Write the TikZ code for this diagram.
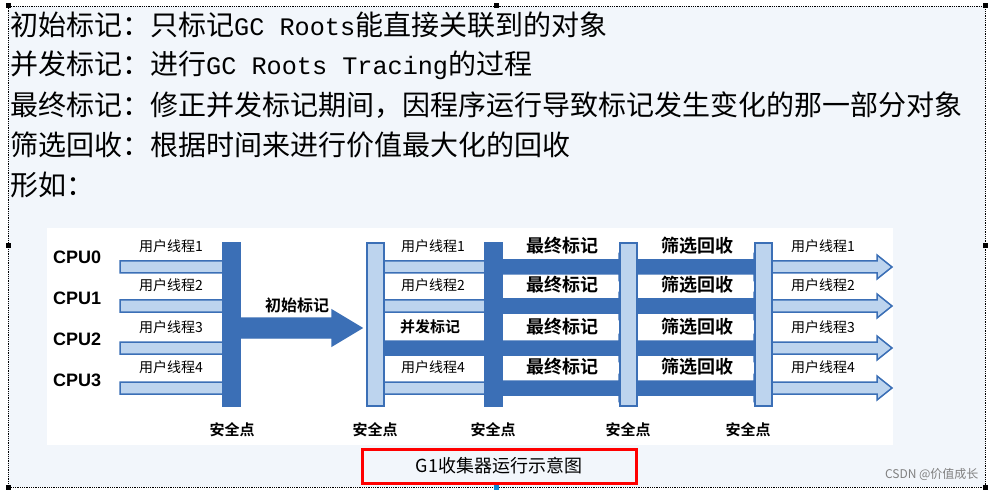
\documentclass[tikz,border=0pt]{standalone}
\usepackage{fontspec}
\setmainfont{Noto Sans CJK SC}
\newfontfamily\cjkb{Noto Sans CJK SC Bold}
\newfontfamily\mymono[Scale=0.9]{Liberation Mono}
\newfontfamily\lsans{Liberation Sans}
\definecolor{dk}{HTML}{3B6FB6}
\definecolor{lt}{HTML}{BDD4EE}
\definecolor{bg}{HTML}{F2F6FB}
\newcommand\harr[5]{% x1 x2 y bodyhalf fill
  \path[draw=dk,fill=#5,line width=1.5pt] (#1,#3-#4) -- (#2-15,#3-#4) -- (#2-15,#3-#4-6) -- (#2,#3) -- (#2-15,#3+#4+6) -- (#2-15,#3+#4) -- (#1,#3+#4) -- cycle;}
\newcommand\vbar[2]{\path[draw=dk,fill=#2,line width=1.5pt] (#1,243) rectangle (#1+17,406);}
\tikzset{top/.style={anchor=west,font=\fontsize{28}{30}\selectfont,inner sep=0},
 ulab/.style={font=\fontsize{14}{16}\selectfont,inner sep=0},
 blab/.style={font=\cjkb\fontsize{18}{20}\selectfont,inner sep=0},
 slab/.style={font=\cjkb\fontsize{15}{17}\selectfont,inner sep=0},
 cpu/.style={font=\lsans\bfseries\fontsize{18}{20}\selectfont,inner sep=0,anchor=west}}
\begin{document}
\begin{tikzpicture}[x=1pt,y=-1pt]
\useasboundingbox (0,0) rectangle (993,494);
\fill[white] (0,0) rectangle (993,494);
\fill[bg] (8,6) rectangle (985,487);
\draw[densely dotted,line width=0.8pt] (8,6) rectangle (985,487);
\foreach \p in {(8,6),(496,6),(985,6),(8,246),(985,246),(8,487),(985,487)} \fill \p +(-2.5,-2.5) rectangle +(2.5,2.5);
\fill[cyan!70!blue] (496,487) +(-2.5,-2.5) rectangle +(2.5,2.5);
\node[top] (l1) at (10,25) {初始标记：只标记{\mymono GC Roots}能直接关联到的对象};
\node[top] (l2) at (10,65) {并发标记：进行{\mymono GC Roots Tracing}的过程};
\node[top] (l3) at (10,105) {最终标记：修正并发标记期间，因程序运行导致标记发生变化的那一部分对象};
\node[top] (l4) at (10,145) {筛选回收：根据时间来进行价值最大化的回收};
\node[top] (l5) at (10,185) {形如：};
\fill[white] (47,228) rectangle (893,445);
\foreach \y/\n [count=\i from 0] in {257/0,298/1,339/2,380/3} \node[cpu] (cpu\i) at (53,\y) {CPU\n};
\foreach \y [count=\i] in {267,306,348,388} {
  \harr{120}{238}{\y}{6}{lt}
  \node[ulab] (a\i) at (171,\y-21) {用户线程\i};
  \harr{384}{500}{\y}{6}{lt}
  \harr{502}{634}{\y}{7}{dk}
  \node[blab] (b\i) at (562,\y-21) {最终标记};
  \harr{637}{769}{\y}{7}{dk}
  \node[blab] (c\i) at (697,\y-21) {筛选回收};
  \harr{772}{892}{\y}{6}{lt}
  \node[ulab] (d\i) at (823,\y-21) {用户线程\i};
}
\harr{384}{500}{348}{7}{dk}
\foreach \i/\y in {1/267,2/306,4/388} \node[ulab] (e\i) at (433,\y-21) {用户线程\i};
\node[blab,font=\cjkb\fontsize{15}{17}\selectfont] (e3) at (430,327) {并发标记};
\path[draw=dk,fill=dk,line width=1.2pt] (240,318) -- (332,318) -- (332,310) -- (362,328) -- (332,346) -- (332,338) -- (240,338) -- cycle;
\node[blab,font=\cjkb\fontsize{16}{18}\selectfont] (im) at (297,305) {初始标记};
\vbar{223}{dk}\vbar{367}{lt}\vbar{485}{dk}\vbar{620}{lt}\vbar{755}{lt}
\foreach \x [count=\i] in {232,375,493,628,748} \node[slab] (s\i) at (\x,430) {安全点};
\draw[red,line width=3pt] (362,449) rectangle (636,483);
\node[font=\fontsize{18}{20}\selectfont] (cap) at (499,466) {G1收集器运行示意图};
\node[font=\fontsize{12}{14}\selectfont,text=gray,anchor=east] (wm) at (982,474) {CSDN @价值成长};
\end{tikzpicture}
\end{document}
